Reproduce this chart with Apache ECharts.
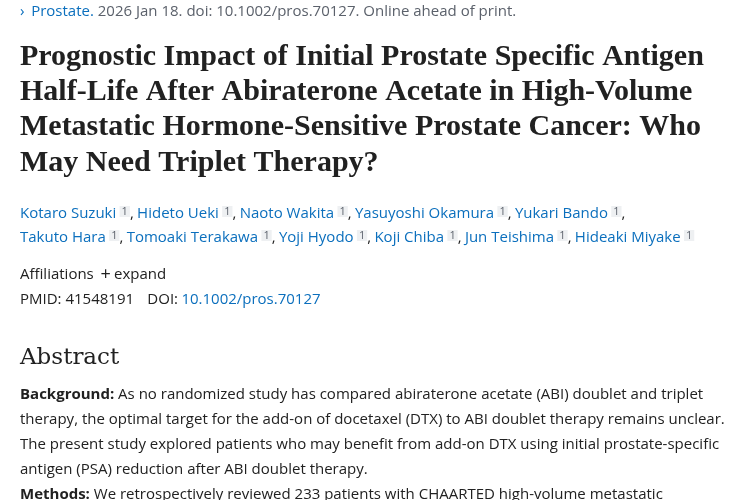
<!DOCTYPE html>
<html>
<head>
<meta charset="utf-8">
<script src="https://cdn.jsdelivr.net/npm/echarts@6/dist/echarts.min.js"></script>
<style>
  html, body { margin: 0; padding: 0; background: #fff; }
  #main { width: 750px; height: 500px; }
</style>
</head>
<body>
<div id="main"></div>
<script>
var journalLine = ["Prostate.", " 2026 Jan 18. doi: 10.1002/pros.70127. Online ahead of print."];
var titleLines = [
    "Prognostic Impact of Initial Prostate Specific Antigen",
    "Half-Life After Abiraterone Acetate in High-Volume",
    "Metastatic Hormone-Sensitive Prostate Cancer: Who",
    "May Need Triplet Therapy?"
];
var authorsRow1 = ["Kotaro Suzuki", "Hideto Ueki", "Naoto Wakita", "Yasuyoshi Okamura", "Yukari Bando"];
var authorsRow2 = ["Takuto Hara", "Tomoaki Terakawa", "Yoji Hyodo", "Koji Chiba", "Jun Teishima", "Hideaki Miyake"];
var pmid = "41548191";
var doi = "10.1002/pros.70127";
var abstractLines = [
    ["Background:", " As no randomized study has compared abiraterone acetate (ABI) doublet and triplet"],
    ["", "therapy, the optimal target for the add-on of docetaxel (DTX) to ABI doublet therapy remains unclear."],
    ["", "The present study explored patients who may benefit from add-on DTX using initial prostate-specific"],
    ["", "antigen (PSA) reduction after ABI doublet therapy."],
    ["Methods:", " We retrospectively reviewed 233 patients with CHAARTED high-volume metastatic"]
];

var BLUE = "#0b6fbd", TEXT = "#212121", GRAY = "#5b616b";
var SANS = "'Open Sans', 'Noto Sans', sans-serif";

function authorRow(names, last) {
    var parts = names.map(function (n, i) {
        var sep = (i < names.length - 1 || !last) ? "{t|,} " : "";
        return "{a|" + n + "} {s|1}" + sep;
    });
    return parts.join("");
}

var rich = {
    a: { fill: BLUE, fontSize: 15, fontFamily: SANS },
    t: { fill: TEXT, fontSize: 15, fontFamily: SANS },
    s: { fill: GRAY, fontSize: 11, fontFamily: SANS, backgroundColor: "#eef0f2", padding: [0, 2, 0, 2], verticalAlign: "top", lineHeight: 14 }
};

var elements = [];
elements.push({ type: "text", left: 20, top: 4, style: {
    rich: {
        c: { fill: BLUE, fontSize: 15, fontFamily: SANS },
        b: { fill: BLUE, fontSize: 15, fontFamily: SANS },
        g: { fill: GRAY, fontSize: 15, fontFamily: SANS }
    },
    text: "{c|›}  {b|" + journalLine[0] + "}{g|" + journalLine[1] + "}"
} });
titleLines.forEach(function (l, i) {
    elements.push({ type: "text", left: 20, top: 42 + i * 35.3, style: {
        text: l, fill: TEXT, fontSize: 30, fontWeight: "bold", fontFamily: "'Liberation Serif', serif"
    } });
});
elements.push({ type: "text", left: 20, top: 206, style: { rich: rich, text: authorRow(authorsRow1, false) } });
elements.push({ type: "text", left: 20, top: 230, style: { rich: rich, text: authorRow(authorsRow2, true) } });
elements.push({ type: "text", left: 20, top: 266, style: {
    rich: { t: rich.t, p: { fill: TEXT, fontSize: 18, fontFamily: SANS } },
    text: "{t|Affiliations}  {p|+} {t|expand}"
} });
elements.push({ type: "text", left: 20, top: 292, style: {
    rich: { t: rich.t, a: rich.a },
    text: "{t|PMID: " + pmid + "}    {t|DOI:} {a|" + doi + "}"
} });
elements.push({ type: "text", left: 20, top: 347, style: {
    text: "Abstract", fill: TEXT, fontSize: 23, fontFamily: "'DejaVu Serif', serif"
} });
abstractLines.forEach(function (l, i) {
    elements.push({ type: "text", left: 20, top: 387 + i * 25, style: {
        rich: {
            b: { fill: TEXT, fontSize: 15, fontWeight: "bold", fontFamily: SANS },
            t: { fill: TEXT, fontSize: 15, fontFamily: SANS }
        },
        text: (l[0] ? "{b|" + l[0] + "}" : "") + "{t|" + l[1] + "}"
    } });
});

var chart = echarts.init(document.getElementById("main"));
chart.setOption({ backgroundColor: "#fff", graphic: { elements: elements } });
</script>
</body>
</html>
